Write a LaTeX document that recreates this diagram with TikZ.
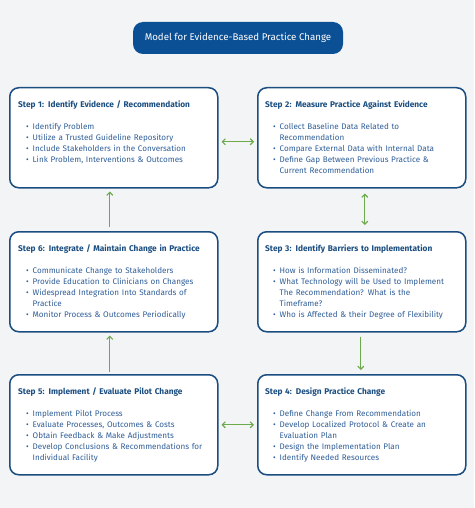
\documentclass[tikz,border=0pt]{standalone}
\usepackage{fontspec}
\setmainfont{Fira Sans}
\usetikzlibrary{arrows.meta}
\definecolor{bg}{HTML}{F3F4F6}
\definecolor{navy}{HTML}{1B4E80}
\definecolor{titlebg}{HTML}{0B4F94}
\definecolor{txt}{HTML}{2F5E98}
\definecolor{grn}{HTML}{6CAA4C}
\newcommand{\hd}[1]{{\fontsize{8.3}{11}\selectfont\bfseries\color{navy}#1}\par\vspace{11pt}\leftskip=8pt}
\newcommand{\itm}[1]{\par\hangindent=6.5pt\hangafter=1\makebox[6.5pt][l]{\textbullet}#1}
\tikzset{
  stepbox/.style={draw=navy, line width=1.5pt, rounded corners=9pt, fill=white,
    minimum width=208pt, minimum height=100pt, anchor=north west, inner sep=0pt},
  txtnode/.style={anchor=north west, inner sep=0pt, text width=205pt, align=left,
    font=\fontsize{8.1}{11}\selectfont, text=txt},
  arr/.style={draw=grn, line width=1.2pt, -{Straight Barb[length=3pt,width=6pt]}},
  darr/.style={draw=grn, line width=1.2pt, {Straight Barb[length=3pt,width=6pt]}-{Straight Barb[length=3pt,width=6pt]}}
}
\begin{document}
\begin{tikzpicture}[x=1pt,y=-1pt]
\fill[bg] (0,0) rectangle (474,508);
\useasboundingbox (0,0) rectangle (474,508);
\node[fill=titlebg, rounded corners=10pt, minimum width=210pt, minimum height=32pt,
  text=white, font=\fontsize{9.7}{11}\selectfont, inner sep=0pt] (title) at (238,38)
  {Model for Evidence-Based Practice Change};

\node[stepbox] (b1) at (9,87) {};
\node[stepbox] (b2) at (257,87) {};
\node[stepbox] (b6) at (9,231) {};
\node[stepbox] (b3) at (257,231) {};
\node[stepbox] (b5) at (9,374) {};
\node[stepbox] (b4) at (257,374) {};

\node[txtnode] (t1) at ([xshift=9pt,yshift=-14pt]b1.north west) {%
\hd{Step 1: Identify Evidence / Recommendation}%
\itm{Identify Problem}
\itm{Utilize a Trusted Guideline Repository}
\itm{Include Stakeholders in the Conversation}
\itm{Link Problem, Interventions \& Outcomes}\par};

\node[txtnode] (t2) at ([xshift=8pt,yshift=-14pt]b2.north west) {%
\hd{Step 2: Measure Practice Against Evidence}%
\itm{Collect Baseline Data Related to\newline Recommendation}
\itm{Compare External Data with Internal Data}
\itm{Define Gap Between Previous Practice \&\newline Current Recommendation}\par};

\node[txtnode] (t6) at ([xshift=9pt,yshift=-14pt]b6.north west) {%
\hd{Step 6: Integrate / Maintain Change in Practice}%
\itm{Communicate Change to Stakeholders}
\itm{Provide Education to Clinicians on Changes}
\itm{Widespread Integration Into Standards of\newline Practice}
\itm{Monitor Process \& Outcomes Periodically}\par};

\node[txtnode] (t3) at ([xshift=8pt,yshift=-14pt]b3.north west) {%
\hd{Step 3: Identify Barriers to Implementation}%
\itm{How is Information Disseminated?}
\itm{What Technology will be Used to Implement\newline The Recommendation? What is the\newline Timeframe?}
\itm{Who is Affected \& their Degree of Flexibility}\par};

\node[txtnode] (t5) at ([xshift=9pt,yshift=-14pt]b5.north west) {%
\hd{Step 5: Implement / Evaluate Pilot Change}%
\itm{Implement Pilot Process}
\itm{Evaluate Processes, Outcomes \& Costs}
\itm{Obtain Feedback \& Make Adjustments}
\itm{Develop Conclusions \& Recommendations for\newline Individual Facility}\par};

\node[txtnode] (t4) at ([xshift=8pt,yshift=-14pt]b4.north west) {%
\hd{Step 4: Design Practice Change}%
\itm{Define Change From Recommendation}
\itm{Develop Localized Protocol \& Create an\newline Evaluation Plan}
\itm{Design the Implementation Plan}
\itm{Identify Needed Resources}\par};

\draw[darr, shorten <=3pt, shorten >=3pt] ([yshift=-4pt]b1.east) -- ([yshift=-4pt]b2.west);
\draw[arr, shorten <=4pt, shorten >=3pt] ([xshift=-4pt]b6.north) -- ([xshift=-4pt]b1.south);
\draw[darr, shorten <=5pt, shorten >=6pt] ([xshift=3pt]b2.south) -- ([xshift=3pt]b3.north);
\draw[arr, shorten <=4pt, shorten >=4pt] ([xshift=-1pt]b3.south) -- ([xshift=-1pt]b4.north);
\draw[arr, shorten <=2pt, shorten >=3pt] ([xshift=-4pt]b5.north) -- ([xshift=-4pt]b6.south);
\draw[darr, shorten <=3pt, shorten >=3pt] (b4.west) -- (b5.east);
\end{tikzpicture}
\end{document}
